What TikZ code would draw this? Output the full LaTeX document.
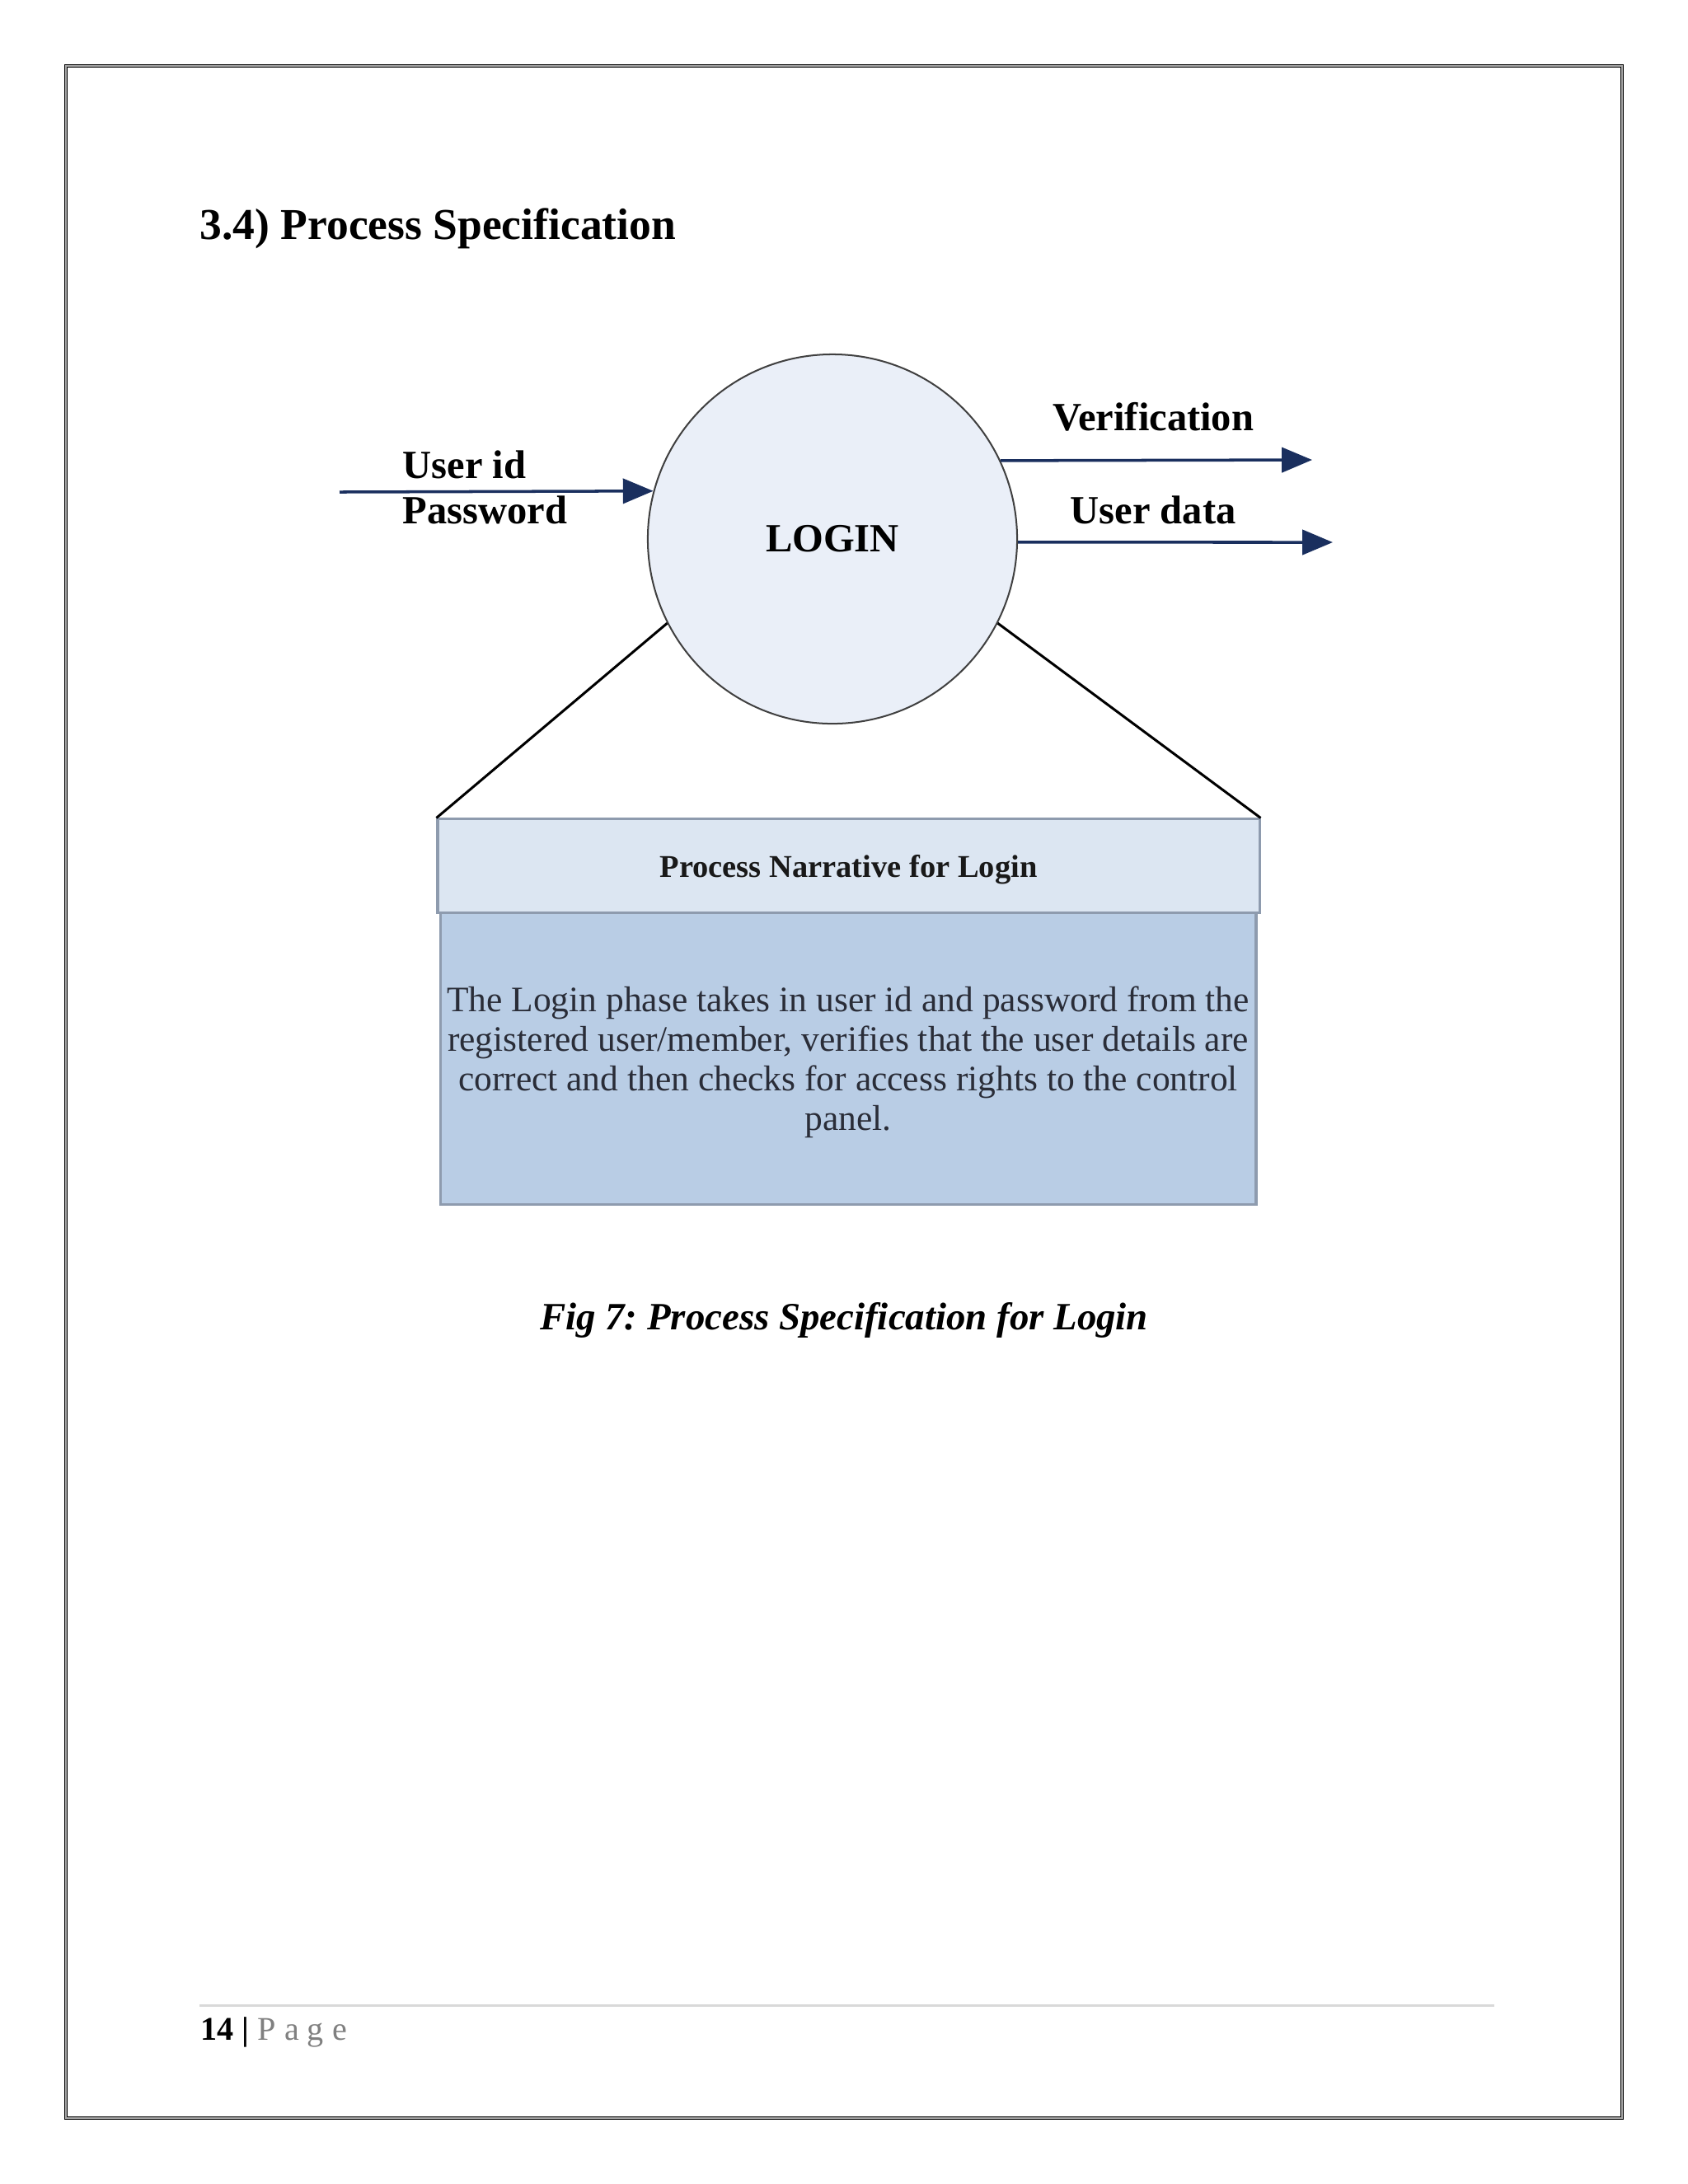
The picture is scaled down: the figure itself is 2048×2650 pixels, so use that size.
\documentclass[tikz,border=0pt]{standalone}
\usepackage{fontspec}
\setmainfont{Liberation Serif}
\usetikzlibrary{arrows.meta}
\definecolor{navy}{HTML}{1A2F5E}
\definecolor{circfill}{HTML}{EAEFF8}
\definecolor{hdrfill}{HTML}{DCE6F2}
\definecolor{bodyfill}{HTML}{B9CDE5}
\definecolor{boxline}{HTML}{8E9BAE}
\definecolor{narrtext}{HTML}{2A2D38}
\frenchspacing
\begin{document}
\begin{tikzpicture}[x=0.2988pt,y=-0.2988pt,
  lbl/.style={font=\fontsize{14.5}{17}\selectfont\bfseries, text=black, inner sep=0pt, anchor=base west},
  flow/.style={draw=navy, line width=1.05pt, -{Triangle[length=11pt,width=9pt]}},
  zoomline/.style={draw=black, line width=0.9pt},
  process/.style={circle, draw=black!75, line width=0.6pt, fill=circfill, minimum size=133.9pt, inner sep=0pt, font=\fontsize{14.5}{17}\selectfont\bfseries},
  hdrbox/.style={rectangle, draw=boxline, line width=0.9pt, fill=hdrfill, minimum width=297.9pt, minimum height=33.8pt, inner sep=0pt, text depth=0pt, font=\fontsize{11.5}{14}\selectfont\bfseries, text=black!90},
  bodybox/.style={rectangle, draw=boxline, line width=0.9pt, fill=bodyfill, minimum width=295.8pt, minimum height=105.8pt, inner sep=0pt}
]
\useasboundingbox (0,0) rectangle (2048,2650);
\fill[white] (0,0) rectangle (2048,2650);
% page frame
\draw[draw=black, line width=0.3pt, double=gray!70, double distance=0.7pt] (80,80) rectangle (1968,2570);

% title
\node[anchor=base west, inner sep=0pt, font=\fontsize{16}{19}\selectfont\bfseries] (title) at (242,290) {3.4) Process Specification};

% process circle
\node[process] (login) at (1010,654) {LOGIN};

% input flow
\coordinate (inpt) at (412,597);
\draw[flow] (inpt) -- (login.165.3);
\node[lbl] (uid) at (488,580) {User id};
\node[lbl] (pwd) at (488,635) {Password};

% output flows
\coordinate (verend) at (1592,558);
\coordinate (udend) at (1617,658);
\draw[flow] (login.25.4) -- (verend);
\draw[flow] (login.-1) -- (udend);
\node[lbl] (ver) at (1277,522) {Verification};
\node[lbl] (ud) at (1298,635) {User data};

% narrative boxes
\node[bodybox] (body) at (1029,1284) {};
\node[hdrbox] (hdr) at (1029.5,1050.5) {Process Narrative for Login};
\draw[zoomline] (login.207.4) -- (hdr.north west);
\draw[zoomline] (login.333.2) -- (hdr.north east);

\node[anchor=base, inner sep=0pt, align=center, text=narrtext, font=\fontsize{13}{14.34}\selectfont] (narr) at (1029,1371)
  {The Login phase takes in user id and password from the\\
   registered user/member, verifies that the user details are\\
   correct and then checks for access rights to the control\\
   panel.};

% caption
\node[anchor=base, inner sep=0pt, font=\fontsize{14}{17}\selectfont\bfseries\itshape] (cap) at (1024,1613) {Fig 7: Process Specification for Login};

% footer
\coordinate (fl) at (242,2433);
\coordinate (fr) at (1813,2433);
\draw[draw=black!15, line width=0.9pt] (fl) -- (fr);
\node[anchor=base west, inner sep=0pt, font=\fontsize{12}{14}\selectfont] (pg) at (243,2475) {\textbf{14 |} \textcolor{black!50}{P a g e}};
\end{tikzpicture}
\end{document}
